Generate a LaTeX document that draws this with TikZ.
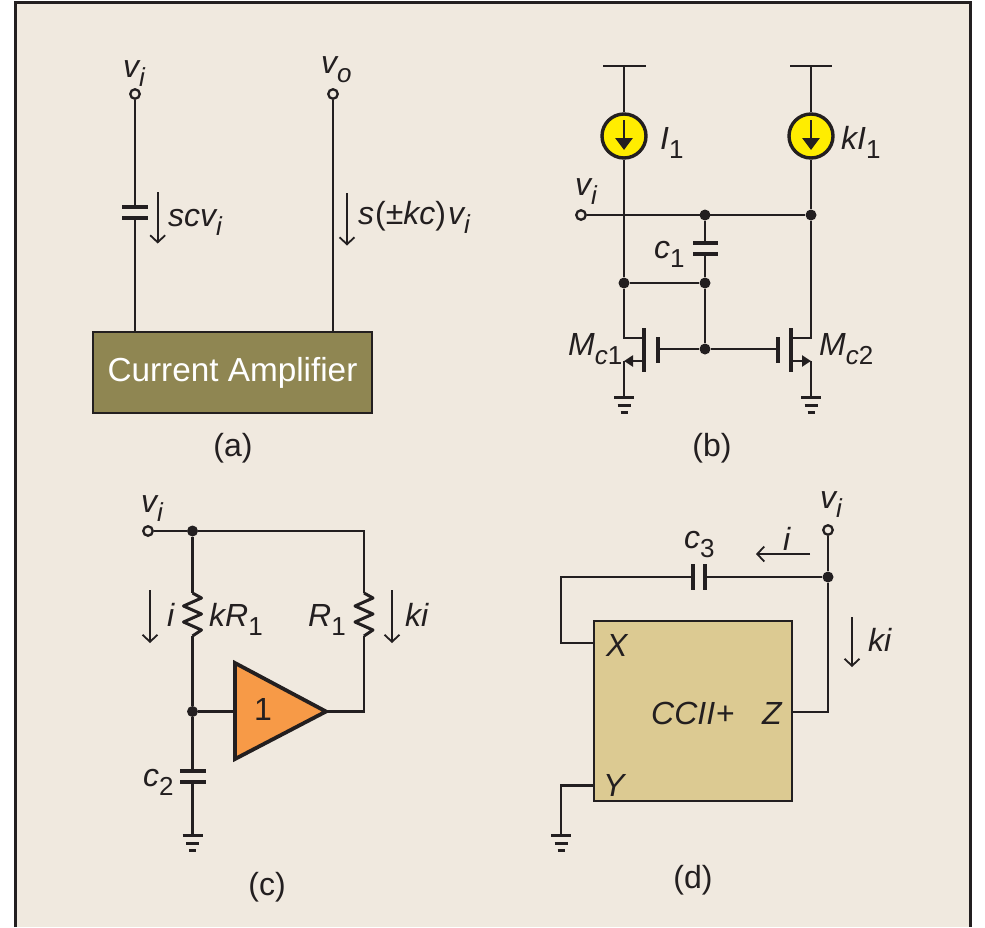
\documentclass[tikz,border=0pt]{standalone}
\usepackage{fontspec}
\setmainfont{Liberation Sans}
\usetikzlibrary{arrows.meta,calc}
\definecolor{bg}{HTML}{F0E9DF}
\definecolor{ink}{HTML}{231F20}
\definecolor{olive}{HTML}{8F8652}
\definecolor{sand}{HTML}{DCCA92}
\definecolor{amp}{HTML}{F79A47}
\definecolor{srcy}{HTML}{FFED00}
\newcommand\subi[1]{\raisebox{-0.3em}{\fontsize{26}{26}\selectfont #1}}
\newcommand\isub[1]{\raisebox{-0.3em}{\fontsize{26}{26}\selectfont\itshape #1}}
\tikzset{
  wire/.style={draw=ink,line width=2.3pt},
  bold wire/.style={draw=ink,line width=2.8pt},
  lab/.style={anchor=base west,inner sep=0pt,text=ink,font=\fontsize{32}{32}\selectfont},
  cap lab/.style={anchor=center,inner sep=0pt,text=ink,font=\fontsize{32}{32}\selectfont},
  term/.style={circle,draw=ink,line width=2.3pt,fill=bg,inner sep=0pt,minimum size=9.5pt},
  junction/.style={circle,fill=ink,inner sep=0pt,minimum size=11pt},
  hplate/.style={fill=ink,inner sep=0pt,minimum width=26pt,minimum height=3.4pt},
  vplate/.style={fill=ink,inner sep=0pt,minimum width=3.4pt,minimum height=26pt},
  flow/.style={draw=ink,line width=1.8pt,-{Straight Barb[length=7pt,width=15pt,line width=1.8pt]}},
  gnd/.pic={
    \draw[ink,line width=3pt] (-10,0) -- (10,0);
    \draw[ink,line width=3pt] (-6.5,8) -- (6.5,8);
    \draw[ink,line width=2.6pt] (-3.5,15.5) -- (3.5,15.5);
  },
  zigzag/.pic={
    \draw[ink,line width=3pt,line join=round] (0,0) -- (9,5) -- (-9,13) -- (9,21) -- (-9,29) -- (9,37) -- (0,43);
  }
}
\begin{document}
\begin{tikzpicture}[x=1pt,y=-1pt]
\useasboundingbox (0,0) rectangle (985,927);
\fill[white] (0,0) rectangle (985,927);
\fill[bg] (15,2.7) rectangle (970.5,927);
\draw[ink,line width=3pt] (15,927) -- (15,2.7) -- (970.5,2.7) -- (970.5,927);

% ---------- (a)
\node[rectangle,draw=ink,line width=2.6pt,fill=olive,minimum width=279pt,minimum height=81pt,inner sep=0pt,
      text=white,font=\fontsize{33.3}{33.3}\selectfont] (amp) at (232.5,372.5) {\raisebox{-4pt}{Current Amplifier}};
\node[term] (ai) at (135,94) {};
\node[term] (ao) at (333,94) {};
\node[hplate] (ap1) at (135,207) {};
\node[hplate] (ap2) at (135,218) {};
\coordinate (aib) at (135,332);
\coordinate (aob) at (333,332);
\draw[wire] (ai) -- (ap1);
\draw[wire] (ap2) -- (aib);
\draw[wire] (ao) -- (aob);
\coordinate (af1s) at (157.7,192); \coordinate (af1e) at (157.7,243.5);
\coordinate (af2s) at (347,193); \coordinate (af2e) at (347,245.5);
\draw[flow] (af1s) -- (af1e);
\draw[flow] (af2s) -- (af2e);
\node[lab] (lai) at (123,77) {{\itshape v}\isub{i}};
\node[lab] (lao) at (321,73) {{\itshape v}\isub{o}};
\node[lab] (lscv) at (168,226) {{\itshape scv}\isub{i}};
\node[lab] (lskc) at (358,224) {{\itshape s}\hspace{1pt}(±{\itshape kc})\hspace{2pt}{\itshape v}\isub{i}};
\node[cap lab] (capa) at (233,448.5) {(a)};

% ---------- (b)
\coordinate (bt1) at (624,66); \coordinate (bt2) at (811,66);
\coordinate (bb1a) at (603,66); \coordinate (bb1b) at (646,66);
\coordinate (bb2a) at (790,66); \coordinate (bb2b) at (832,66);
\draw[bold wire] (bb1a) -- (bb1b);
\draw[bold wire] (bb2a) -- (bb2b);
\node[circle,draw=ink,line width=3.4pt,fill=srcy,inner sep=0pt,minimum size=44pt] (s1) at (624,136) {};
\node[circle,draw=ink,line width=3.4pt,fill=srcy,inner sep=0pt,minimum size=44pt] (s2) at (811,136) {};
\draw[bold wire] (bt1) -- (s1);
\draw[bold wire] (bt2) -- (s2);
\foreach \n/\x in {a/624,b/811}{
  \draw[ink,line width=2.8pt,-{Triangle[length=12pt,width=17pt]}] (\x,120) -- (\x,150);
}
\node[term] (bi) at (581,215) {};
\node[junction] (bj1) at (705,215) {};
\node[junction] (bj2) at (811,215) {};
\node[junction] (bj3) at (705,283) {};
\node[junction] (bj4) at (624,283) {};
\node[junction] (bj5) at (705,349) {};
\node[hplate,minimum width=25pt] (bp1) at (705,243) {};
\node[hplate,minimum width=25pt] (bp2) at (705,254) {};
\draw[wire] (bi) -- (bj2);
\draw[bold wire] (bj1) -- (bp1);
\draw[bold wire] (bp2) -- (bj3);
\draw[wire] (bj4) -- (bj3);
\draw[bold wire] (bj3) -- (bj5);
\draw[bold wire] (s1) -- (bj4);
\draw[bold wire] (s2) -- (bj2);
% gates and channels
\node[fill=ink,inner sep=0pt,minimum width=3.4pt,minimum height=26pt] (bg1) at (658,350) {};
\node[fill=ink,inner sep=0pt,minimum width=3.4pt,minimum height=26pt] (bg2) at (778,350) {};
\node[fill=ink,inner sep=0pt,minimum width=3.4pt,minimum height=44pt] (bc1) at (644,350) {};
\node[fill=ink,inner sep=0pt,minimum width=3.4pt,minimum height=44pt] (bc2) at (791,350) {};
\draw[wire] (bg1|-bj5) -- (bj5);
\draw[wire] (bg2|-bj5) -- (bj5);
\coordinate (bd1) at (624,338); \coordinate (bd2) at (811,338);
\coordinate (bs1) at (624,361); \coordinate (bs2) at (811,361);
\coordinate (bg1g) at (624,397); \coordinate (bg2g) at (811,397);
\draw[bold wire,line join=miter] (bj4) -- (bd1) -- (bd1-|bc1);
\draw[bold wire,line join=miter] (bj2) -- (bd2) -- (bd2-|bc2);
\draw[wire,-{Triangle[length=9pt,width=11pt]}] (bs1-|bc1) -- (bs1);
\draw[wire,-{Triangle[length=9pt,width=11pt]}] (bs2-|bc2) -- (bs2);
\draw[wire] (bs1) -- (bg1g);
\draw[wire] (bs2) -- (bg2g);
\pic at (bg1g) {gnd};
\pic at (bg2g) {gnd};
\node[lab] (lbi) at (575,195) {{\itshape v}\isub{i}};
\node[lab] (li1) at (660,149) {{\itshape I}\subi{1}};
\node[lab] (lki) at (841,149) {{\itshape kI}\subi{1}};
\node[lab] (lc1) at (654,258) {{\itshape c}\subi{1}};
\node[lab] (lm1) at (568,355) {{\itshape M}\isub{c}\subi{1}};
\node[lab] (lm2) at (819,355) {{\itshape M}\isub{c}\subi{2}};
\node[cap lab] (capb) at (712,448.5) {(b)};

% ---------- (c)
\node[term] (ci) at (148,531) {};
\node[junction] (cj1) at (192.5,531) {};
\node[junction] (cj2) at (192.5,711.5) {};
\coordinate (cr) at (364,531);
\coordinate (cz1t) at (192.5,593); \coordinate (cz1b) at (192.5,636);
\coordinate (cz2t) at (364,593); \coordinate (cz2b) at (364,636);
\coordinate (co) at (364,711.5);
\coordinate (cg) at (192.5,835);
\coordinate (ctA) at (235,663); \coordinate (ctB) at (235,759); \coordinate (ctC) at (326,711.5);
\node[hplate] (cp1) at (192.5,771) {};
\node[hplate] (cp2) at (192.5,782) {};
\draw[wire] (ci) -- (cj1);
\draw[wire] (cj1) -- (cr) -- (cz2t);
\draw[wire] (cj1) -- (cz1t);
\pic at (cz1t) {zigzag};
\pic at (cz2t) {zigzag};
\draw[wire] (cz1b) -- (cj2);
\draw[wire] (cj2) -- (cp1);
\draw[wire] (cp2) -- (cg);
\pic at (cg) {gnd};
\draw[wire] (cj2) -- (ctA|-cj2);
\draw[wire] (ctC) -- (co) -- (cz2b);
\filldraw[draw=ink,fill=amp,line width=3.8pt,line join=miter] (ctA) -- (ctC) -- (ctB) -- cycle;
\node[cap lab] (cone) at (263,709) {1};
\coordinate (cf1s) at (150,590); \coordinate (cf1e) at (150,643);
\coordinate (cf2s) at (392,590); \coordinate (cf2e) at (392,643);
\draw[flow] (cf1s) -- (cf1e);
\draw[flow] (cf2s) -- (cf2e);
\node[lab] (lci) at (141,512) {{\itshape v}\isub{i}};
\node[lab] (lii) at (167,626) {{\itshape i}};
\node[lab] (lkr) at (209,626) {{\itshape kR}\subi{1}};
\node[lab] (lr1) at (308,626) {{\itshape R}\subi{1}};
\node[lab] (lkic) at (405,626) {{\itshape ki}};
\node[lab] (lc2) at (143,786) {{\itshape c}\subi{2}};
\node[cap lab] (capc) at (267,887) {(c)};

% ---------- (d)
\node[rectangle,draw=ink,line width=2.4pt,fill=sand,minimum width=198pt,minimum height=180pt,inner sep=0pt] (cc) at (693,711) {};
\node[term] (di) at (828,530) {};
\node[junction] (dj) at (828,577) {};
\node[vplate] (dp1) at (693,577) {};
\node[vplate] (dp2) at (705,577) {};
\coordinate (dz) at (828,712);
\coordinate (dl1) at (561,577); \coordinate (dl2) at (561,643);
\coordinate (dl3) at (561,785.5); \coordinate (dg) at (561,835);
\coordinate (dx) at (594,643); \coordinate (dy) at (594,785.5); \coordinate (dzz) at (792,712);
\draw[wire] (di) -- (dj);
\draw[wire] (dj) -- (dp2);
\draw[wire] (dp1) -- (dl1) -- (dl2) -- (dx);
\draw[wire] (dj) -- (dz) -- (dzz);
\draw[wire] (dy) -- (dl3) -- (dg);
\pic at (dg) {gnd};
\coordinate (dfis) at (810,554); \coordinate (dfie) at (756,554);
\coordinate (dfks) at (852,617); \coordinate (dfke) at (852,667);
\draw[flow] (dfis) -- (dfie);
\draw[flow] (dfks) -- (dfke);
\node[lab] (ldi) at (820,508) {{\itshape v}\isub{i}};
\node[lab] (lc3) at (684,548) {{\itshape c}\subi{3}};
\node[lab] (ldii) at (783,550) {{\itshape i}};
\node[lab] (ldk) at (868,651) {{\itshape ki}};
\node[lab] (lx) at (606,656) {{\itshape X}};
\node[lab] (ly) at (603,796) {{\itshape Y}};
\node[lab] (lz) at (762,724) {{\itshape Z}};
\node[lab] (lcc) at (651,724) {{\itshape CCII}\hspace{1pt}+};
\node[cap lab] (capd) at (693,880) {(d)};
\end{tikzpicture}
\end{document}
